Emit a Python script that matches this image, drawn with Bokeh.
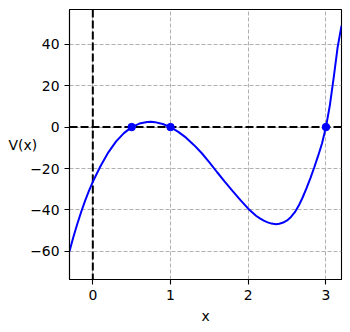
from bokeh.plotting import figure
from bokeh.models import Range1d, FixedTicker, Span, CustomJSTickFormatter, ColumnDataSource
from bokeh.embed import file_html
from bokeh.resources import INLINE

# Curve V(x)
x_vals = [-0.3, -0.25, -0.2, -0.15, -0.1, -0.05, 0.0, 0.1, 0.2, 0.3, 0.4, 0.5, 0.6, 0.7, 0.75, 0.8, 0.9, 1.0,
          1.1, 1.2, 1.3, 1.4, 1.5, 1.6, 1.7, 1.8, 1.9, 2.0, 2.1, 2.15, 2.2, 2.25, 2.3, 2.36, 2.4,
          2.45, 2.5, 2.55, 2.6, 2.65, 2.7, 2.75, 2.8, 2.85, 2.9, 2.95, 3.0, 3.05, 3.1, 3.15, 3.2]
v_vals = [-59.9, -53.1, -46.8, -41.0, -35.6, -30.8, -26.4, -18.8, -12.2, -6.9, -2.9, 0.0, 1.7, 2.5, 2.55, 2.4, 1.5, 0.0,
          -2.3, -5.1, -8.6, -12.5, -17.0, -21.8, -26.4, -30.9, -35.3, -39.4, -42.8, -44.1, -45.2, -46.0, -46.6, -46.9, -46.7,
          -46.1, -45.1, -43.4, -41.1, -37.9, -34.0, -29.5, -24.6, -19.4, -13.8, -7.8, 0.0, 10.5, 24.0, 38.5, 49.0]

# Roots
root_x = [0.5, 1.0, 3.0]
root_v = [0.0, 0.0, 0.0]

x_ticks = [0, 1, 2, 3]
y_ticks = [-60, -40, -20, 0, 20, 40]

FONT = "DejaVu Sans"
FS = "13.9px"

p = figure(width=350, height=332, output_backend="svg", toolbar_location=None,
           x_range=Range1d(-0.3, 3.2), y_range=Range1d(-73.6, 56.8),
           min_border_left=69, min_border_right=9, min_border_top=9, min_border_bottom=53)

p.background_fill_color = "white"
p.border_fill_color = "white"
p.outline_line_color = "black"
p.outline_line_width = 1.1

for g in (p.xgrid, p.ygrid):
    g.grid_line_color = "#b0b0b0"
    g.grid_line_width = 1
    g.grid_line_dash = "4 2"
p.xgrid.ticker = FixedTicker(ticks=x_ticks)
p.ygrid.ticker = FixedTicker(ticks=y_ticks)

fmt = CustomJSTickFormatter(code="return tick < 0 ? '\\u2212' + Math.abs(tick) : String(tick);")
for ax in (p.xaxis, p.yaxis):
    ax.major_tick_out = 5
    ax.major_tick_in = 0
    ax.minor_tick_line_color = None
    ax.major_tick_line_color = "black"
    ax.major_tick_line_width = 1.1
    ax.axis_line_color = "black"
    ax.axis_line_width = 1.1
    ax.major_label_text_font = FONT
    ax.major_label_text_font_size = FS
    ax.major_label_text_color = "black"
    ax.axis_label_text_font = FONT
    ax.axis_label_text_font_size = FS
    ax.axis_label_text_font_style = "normal"
    ax.axis_label_text_color = "black"
    ax.formatter = fmt
p.xaxis.ticker = FixedTicker(ticks=x_ticks)
p.yaxis.ticker = FixedTicker(ticks=y_ticks)
p.xaxis.axis_label = "x"
p.yaxis.axis_label = "V(x)"
p.yaxis.axis_label_orientation = "horizontal"
p.yaxis.axis_label_standoff = -10
p.xaxis.major_label_standoff = 5
p.yaxis.major_label_standoff = 5

hspan = Span(location=0, dimension="width", line_color="black", line_width=2, line_dash="8 3", level="underlay")
vspan = Span(location=0, dimension="height", line_color="black", line_width=2, line_dash="8 3", level="underlay")
p.add_layout(hspan)
p.add_layout(vspan)

src = ColumnDataSource(data=dict(x=x_vals, v=v_vals))
p.line("x", "v", source=src, line_color="blue", line_width=2)
p.scatter(root_x, root_v, size=7.5, color="blue")

open("out.html", "w").write(file_html(p, INLINE))
